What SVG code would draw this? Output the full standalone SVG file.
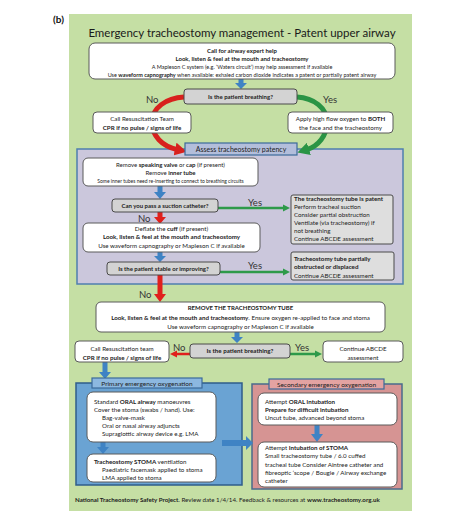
<svg xmlns="http://www.w3.org/2000/svg" width="474" height="520" viewBox="0 0 474 520">
<defs>
<style>
text{font-family:Lato,"Liberation Sans",sans-serif;fill:#222}
.c{text-anchor:middle}
.b{font-weight:bold}
.s5{font-size:5px}
.s55{font-size:5.5px}
.s6{font-size:6px}
.s62{font-size:6.2px}
.s65{font-size:6.5px}
.s7{font-size:7px}
.lbl{font-size:9.5px;fill:#333}
.box{fill:#fff;stroke:#5a5a5a;stroke-width:1}
.q{fill:#d3d3d3;stroke:#4a4a4a;stroke-width:1}
.g{fill:#dedede;stroke:#4a4a4a;stroke-width:1}
.hdr{stroke:#3b6a9a;stroke-width:1.2}
.blue{fill:#3f83c4}
.red{fill:#e0201c}
.gl{stroke:#2e9a4a;stroke-width:2.5;fill:none}
.rl{stroke:#e0201c;stroke-width:2.5;fill:none}
</style>
<marker id="gh" markerUnits="userSpaceOnUse" markerWidth="8" markerHeight="8" viewBox="0 0 8 8" refX="1" refY="4" orient="auto"><path d="M0,0.5 L7,4 L0,7.5 z" fill="#2e9a4a"/></marker>
<marker id="rhs" markerUnits="userSpaceOnUse" markerWidth="8" markerHeight="8" viewBox="0 0 8 8" refX="1" refY="4" orient="auto"><path d="M0,0.5 L7,4 L0,7.5 z" fill="#e0201c"/></marker>
<marker id="rh" markerUnits="userSpaceOnUse" markerWidth="13" markerHeight="13" viewBox="0 0 13 13" refX="2" refY="6.5" orient="auto"><path d="M0,0 L12,6.5 L0,13 z" fill="#d8211d"/></marker>
<marker id="grh" markerUnits="userSpaceOnUse" markerWidth="13" markerHeight="13" viewBox="0 0 13 13" refX="2" refY="6.5" orient="auto"><path d="M0,0 L12,6.5 L0,13 z" fill="#2a9445"/></marker>
</defs>
<rect width="474" height="520" fill="#fff"/>
<rect x="69" y="14" width="343" height="497" fill="#c5dfa4"/>
<text x="53" y="23" class="b" style="font-size:10px;fill:#111">(b)</text>
<text x="242" y="37" class="c" style="font-size:11.5px;fill:#1a1a1a">Emergency tracheostomy management - Patent upper airway</text>

<g id="containers">
<rect id="assess-area" x="77" y="149" width="326" height="135" fill="#cbc7dc" stroke="#4f7faf" stroke-width="1.5"/>
<rect id="primary-area" x="76" y="383" width="166" height="102" fill="#6aa3d3" stroke="#2f5d8a" stroke-width="1.5"/>
<rect id="secondary-area" x="252" y="384" width="150" height="105" fill="#d69493" stroke="#4a6b8c" stroke-width="1.5"/>
</g>

<g id="connectors">
<polygon class="blue" points="238.5,79 243.5,79 243.5,83 247,83 241,89 235,83 238.5,83"/>
<path d="M184,97 C166,98 152,108 152,122 C152,136 162,146 177,149.5" fill="none" stroke="#d8211d" stroke-width="5" marker-end="url(#rh)"/>
<path d="M297,97 C314,98 327,108 327,122 C327,136 318,146 307,149.5" fill="none" stroke="#2a9445" stroke-width="5" marker-end="url(#grh)"/>
<polygon class="blue" points="157.5,186 162.5,186 162.5,192 166,192 160,199 154,192 157.5,192"/>
<line class="gl" x1="218" y1="208" x2="284" y2="208" marker-end="url(#gh)"/>
<polygon class="red" points="157.5,212 162.5,212 162.5,217 166,217 160,224 154,217 157.5,217"/>
<polygon class="blue" points="157.5,252 162.5,252 162.5,256 166,256 160,262 154,256 157.5,256"/>
<line class="gl" x1="220" y1="272" x2="284" y2="272" marker-end="url(#gh)"/>
<polygon class="red" points="157.5,275 162.5,275 162.5,294 166,294 160,302 154,294 157.5,294"/>
<polygon class="blue" points="234.5,332 239.5,332 239.5,337 243,337 237,343 231,337 234.5,337"/>
<line class="rl" x1="190" y1="354" x2="176" y2="354" marker-end="url(#rhs)"/>
<line class="gl" x1="290" y1="354" x2="316" y2="354" marker-end="url(#gh)"/>
<polygon class="blue" points="102.5,362 107.5,362 107.5,372 111,372 105,379 99,372 102.5,372"/>
<polygon class="blue" points="100.5,442 105.5,442 105.5,447 109,447 103,454 97,447 100.5,447"/>
<polygon class="blue" points="222,440 246,440 246,436 253,443 246,450 246,446 222,446"/>
<polygon class="blue" points="314.5,425 319.5,425 319.5,434 323,434 317,442 311,434 314.5,434"/>
</g>

<g id="lbl-labels">
<text x="146" y="103" class="lbl">No</text>
<text x="323" y="103" class="lbl">Yes</text>
<text x="255" y="206" class="lbl c">Yes</text>
<text x="138" y="222" class="lbl">No</text>
<text x="255" y="269" class="lbl c">Yes</text>
<text x="139" y="298" class="lbl">No</text>
<text x="173" y="351" class="lbl">No</text>
<text x="295" y="351" class="lbl">Yes</text>
</g>

<g id="n-call-expert">
<rect class="box" x="89" y="43" width="306" height="36" rx="6"/>
<text x="242" y="52.5" class="c b s6">Call for airway expert help</text>
<text x="242" y="60.5" class="c b s6">Look, listen &amp; feel at the mouth and tracheostomy</text>
<text x="242" y="68.5" class="c s55">A Mapleson C system (e.g. ‘Waters circuit’) may help assessment if available</text>
<text x="242" y="76.5" class="c s55">Use <tspan class="b">waveform capnography</tspan> when available:  exhaled carbon dioxide indicates a patent or partially patent airway</text>
</g>

<g id="n-breathing-1">
<rect class="q" x="184" y="89" width="113" height="15" rx="3"/>
<text x="240.5" y="99" class="c b s6">Is the patient breathing?</text>
</g>

<g id="n-resus-1">
<rect class="box" x="93" y="112" width="98" height="21" rx="4"/>
<text x="142" y="121" class="c s62">Call Resuscitation Team</text>
<text x="142" y="130" class="c b s62">CPR if no pulse / signs of life</text>
</g>

<g id="n-oxygen">
<rect class="box" x="288" y="112" width="105" height="21" rx="4"/>
<text x="340.5" y="121" class="c s62">Apply high flow oxygen to <tspan class="b">BOTH</tspan></text>
<text x="340.5" y="130" class="c s62">the face and the tracheostomy</text>
</g>

<g id="n-assess">
<rect class="hdr" x="185" y="143" width="112" height="12" fill="#b3bedb"/>
<text x="241" y="151.5" class="c s7">Assess tracheostomy patency</text>
</g>

<g id="n-remove-valve">
<rect class="box" x="83" y="158" width="175" height="28" rx="5"/>
<text x="170.5" y="167" class="c s6">Remove <tspan class="b">speaking valve</tspan> or <tspan class="b">cap</tspan> (if present)</text>
<text x="170.5" y="175" class="c s6">Remove <tspan class="b">inner tube</tspan></text>
<text x="170.5" y="182.5" class="c s5">Some inner tubes need re-inserting to connect to breathing circuits</text>
</g>

<g id="n-suction">
<rect class="q" x="112" y="199" width="106" height="13" rx="3"/>
<text x="165" y="208" class="c b s6">Can you pass a suction catheter?</text>
</g>

<g id="n-patent">
<rect class="g" x="291" y="195" width="102" height="49" rx="2"/>
<text x="294" y="201" class="b s62">The tracheostomy tube is patent</text>
<text x="294" y="209" class="s62">Perform tracheal suction</text>
<text x="294" y="217" class="s62">Consider partial obstruction</text>
<text x="294" y="225" class="s62">Ventilate (via tracheostomy) if</text>
<text x="294" y="233" class="s62">not breathing</text>
<text x="294" y="241" class="s62">Continue ABCDE assessment</text>
</g>

<g id="n-deflate">
<rect class="box" x="83" y="223" width="177" height="29" rx="5"/>
<text x="171.5" y="230.5" class="c s62">Deflate the <tspan class="b">cuff</tspan> (if present)</text>
<text x="171.5" y="239.3" class="c b s62">Look, listen &amp; feel at the mouth and tracheostomy</text>
<text x="171.5" y="248.2" class="c s62">Use waveform capnography or Mapleson C if available</text>
</g>

<g id="n-stable">
<rect class="q" x="107" y="262" width="113" height="13" rx="3"/>
<text x="163.5" y="271" class="c b s6">Is the patient stable or improving?</text>
</g>

<g id="n-partial">
<rect class="g" x="291" y="252" width="103" height="28" rx="2"/>
<text x="294" y="261" class="b s62">Tracheostomy tube partially</text>
<text x="294" y="269.3" class="b s62">obstructed or displaced</text>
<text x="294" y="277.5" class="s62">Continue ABCDE assessment</text>
</g>

<g id="n-remove-tube">
<rect class="box" x="96" y="302" width="289" height="30" rx="5"/>
<text x="240.5" y="310" class="c b s6">REMOVE THE TRACHEOSTOMY TUBE</text>
<text x="240.5" y="319.5" class="c s62"><tspan class="b">Look, listen &amp; feel at the mouth and tracheostomy</tspan>. Ensure oxygen re-applied to face and stoma</text>
<text x="240.5" y="328.5" class="c s62">Use waveform capnography or Mapleson C if available</text>
</g>

<g id="n-breathing-2">
<rect class="q" x="190" y="344" width="100" height="14" rx="3"/>
<text x="240" y="353" class="c b s62">Is the patient breathing?</text>
</g>

<g id="n-resus-2">
<rect class="box" x="75" y="341" width="94" height="21" rx="4"/>
<text x="122" y="350.5" class="c s62">Call Resuscitation team</text>
<text x="122" y="359.5" class="c b s62">CPR if no pulse / signs of life</text>
</g>

<g id="n-continue">
<rect class="box" x="323" y="341" width="80" height="21" rx="4"/>
<text x="363" y="350.5" class="c s62">Continue ABCDE</text>
<text x="363" y="359.5" class="c s62">assessment</text>
</g>

<g id="n-primary-hdr">
<rect class="hdr" x="92" y="378" width="110" height="10" fill="#8cb8e0"/>
<text x="147" y="385.8" class="c s65">Primary emergency oxygenation</text>
</g>

<g id="n-oral-airway">
<rect class="box" x="87" y="392" width="129" height="50" rx="6"/>
<text x="94" y="404" class="s62">Standard <tspan class="b">ORAL airway</tspan> manoeuvres</text>
<text x="94" y="412" class="s62">Cover the stoma (swabs / hand). Use:</text>
<text x="102" y="420" class="s62">Bag-valve-mask</text>
<text x="102" y="428" class="s62">Oral or nasal airway adjuncts</text>
<text x="102" y="436" class="s62">Supraglottic airway device e.g. LMA</text>
</g>

<g id="n-stoma-vent">
<rect class="box" x="87" y="454" width="129" height="28" rx="6"/>
<text x="94" y="464" class="s62"><tspan class="b">Tracheostomy STOMA</tspan> ventilation</text>
<text x="102" y="472" class="s62">Paediatric facemask applied to stoma</text>
<text x="102" y="480" class="s62">LMA applied to stoma</text>
</g>

<g id="n-secondary-hdr">
<rect class="hdr" x="269" y="379" width="115" height="10" fill="#e3a3a2"/>
<text x="326.5" y="386.5" class="c s65">Secondary emergency oxygenation</text>
</g>

<g id="n-oral-intub">
<rect class="box" x="258" y="393" width="139" height="32" rx="6"/>
<text x="265" y="404" class="s62">Attempt <tspan class="b">ORAL intubation</tspan></text>
<text x="265" y="412" class="b s62">Prepare for difficult intubation</text>
<text x="265" y="420" class="s62">Uncut tube, advanced beyond stoma</text>
</g>

<g id="n-stoma-intub">
<rect class="box" x="258" y="442" width="139" height="45" rx="6"/>
<text x="265" y="450" class="s62">Attempt <tspan class="b">Intubation of STOMA</tspan></text>
<text x="265" y="458.3" class="s62">Small tracheostomy tube / 6.0 cuffed</text>
<text x="265" y="466.6" class="s62">tracheal tube Consider Aintree catheter and</text>
<text x="265" y="475" class="s62">fibreoptic ‘scope / Bougie / Airway exchange</text>
<text x="265" y="483.3" class="s62">catheter</text>
</g>

<text x="75" y="502" class="s62"><tspan class="b">National Tracheostomy Safety Project.</tspan> Review date 1/4/14. Feedback &amp; resources at <tspan class="b">www.tracheostomy.org.uk</tspan></text>
</svg>
